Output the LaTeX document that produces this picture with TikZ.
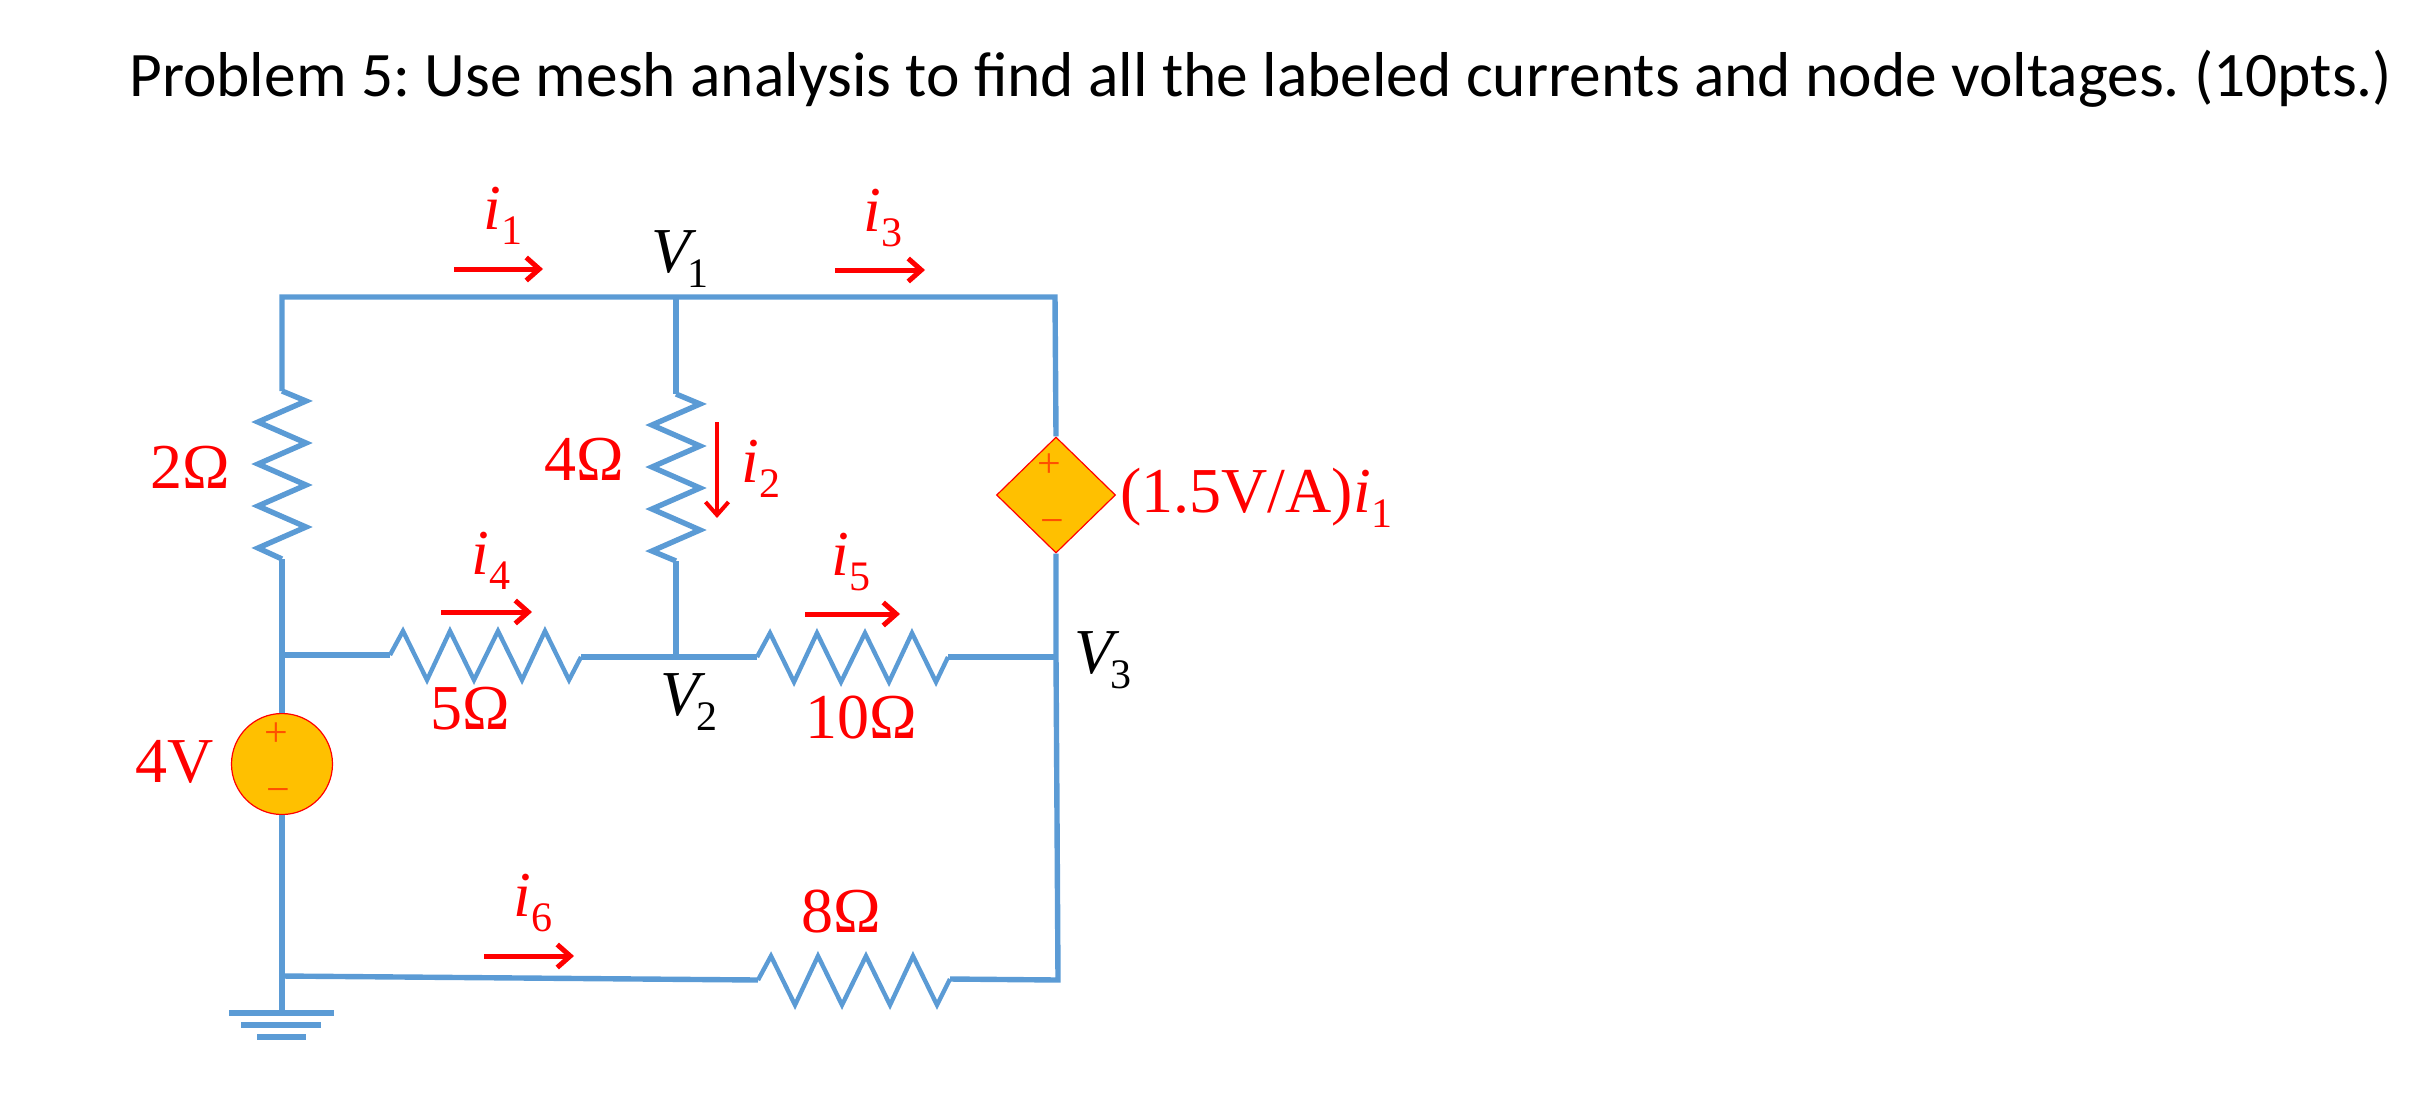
\documentclass[tikz,border=0pt]{standalone}
\usepackage{fontspec}
\setmainfont{Liberation Serif}
\newfontfamily\titlefont{Carlito}
\usetikzlibrary{shapes.geometric, arrows.meta, positioning}
\definecolor{wireblue}{RGB}{91, 155, 213}
\definecolor{srcfill}{RGB}{255, 192, 0}
\definecolor{signred}{RGB}{255, 80, 0}
\newcommand{\cur}[2]{\textit{#1}\raisebox{-7.5pt}{\fontsize{21}{21}\selectfont #2}}
\newcommand{\volt}[2]{\textit{#1}\kern-4.5pt\raisebox{-7.5pt}{\fontsize{21}{21}\selectfont #2}}
\newcommand{\resv}[3]{\draw[wire] (#1) -- ++(24,10) -- ++(-48,21) -- ++(48,21) -- ++(-48,21) -- ++(48,21) -- ++(-48,21) -- ++(48,21) -- ++(-48,21) -- (#2);}
\newcommand{\resh}[3]{\draw[wire, line width=2.2pt] (#1) -- ++(13,-24) -- ++(24,49) -- ++(23,-49) -- ++(24,49) -- ++(24,-49) -- ++(24,49) -- ++(23,-49) -- ++(24,49) -- (#2);}
\tikzset{
  wire/.style={draw=wireblue, line width=2.7pt, line join=miter},
  flow/.style={draw=red, line width=2.5pt, -{Straight Barb[length=6.5pt, width=11.5pt]}},
  lab/.style={anchor=base west, inner sep=0pt, text=red, font=\fontsize{32}{36}\selectfont},
  vlab/.style={lab, text=black},
  sign/.style={inner sep=0pt, text=signred, font=\fontsize{21}{21}\selectfont},
}
\begin{document}
\begin{tikzpicture}[x=0.5pt, y=-0.5pt]
  \useasboundingbox (0,0) rectangle (2412,1114);

  % Title
  \node[anchor=base west, inner sep=0pt, font=\titlefont\fontsize{31.7}{36}\selectfont] (title) at (129,96) {\frenchspacing Problem 5: Use mesh analysis to find all the labeled currents and node voltages. (10pts.)};

  % Sources
  \node[circle, draw=red, fill=srcfill, line width=0.6pt, minimum size=50.5pt, inner sep=0pt] (vs) at (282,764) {};
  \node[sign] (vsplus) at (276,735) {+};
  \node[sign] (vsminus) at (278,796) {−};
  \node[diamond, draw=red, fill=srcfill, line width=0.6pt, minimum width=59.5pt, minimum height=58pt, inner sep=0pt] (dep) at (1056,495) {};
  \node[sign] (depplus) at (1049,466) {+};
  \node[sign] (depminus) at (1052,527) {−};

  % Corners and junctions
  \coordinate (tl) at (282,297);
  \coordinate (tm) at (676,297);
  \coordinate (tr) at (1055,297);
  \coordinate (ml) at (282,655);
  \coordinate (mm) at (676,657);
  \coordinate (mr) at (1056,657);
  \coordinate (bl) at (282,976);
  \coordinate (br) at (1058,980);
  \coordinate (gnd) at (282,1013);

  % Resistor ends
  \coordinate (r2a) at (282,391);
  \coordinate (r2b) at (282,559);
  \coordinate (r4a) at (676,394);
  \coordinate (r4b) at (676,561);
  \coordinate (r5a) at (390,655);
  \coordinate (r5b) at (581,657);
  \coordinate (r10a) at (757,657);
  \coordinate (r10b) at (948,657);
  \coordinate (r8a) at (758,980);
  \coordinate (r8b) at (950,979);

  % Wires
  \draw[wire] (r2a) -- (tl) -- (tr) -- (dep.north);
  \draw[wire] (tm) -- (r4a);
  \draw[wire] (r2b) -- (ml) -- (vs.north);
  \draw[wire] (r4b) -- (mm);
  \draw[wire] (ml) -- (r5a);
  \draw[wire] (r5b) -- (mm) -- (r10a);
  \draw[wire] (r10b) -- (mr);
  \draw[wire] (dep.south) -- (mr) -- (br) -- (r8b);
  \draw[wire] (vs.south) -- (bl) -- (gnd);
  \draw[wire] (bl) -- (r8a);

  % Resistors
  \resv{r2a}{r2b}{}
  \resv{r4a}{r4b}{}
  \resh{r5a}{r5b}{}
  \resh{r10a}{r10b}{}
  \resh{r8a}{r8b}{}

  % Ground
  \draw[wire] (gnd) ++(-53,0) -- ++(105,0);
  \draw[wire] (gnd) ++(-41,12) -- ++(80,0);
  \draw[wire] (gnd) ++(-25,24) -- ++(49,0);

  % Current arrows
  \draw[flow] (454,269) -- (543,269);
  \draw[flow] (835,270) -- (925,270);
  \draw[flow, line width=2pt] (717,422) -- (717,518);
  \draw[flow] (441,612) -- (532,612);
  \draw[flow] (805,614) -- (900,614);
  \draw[flow] (484,956) -- (574,956);

  % Labels
  \node[lab] (li1) at (483,229) {\cur{i}{1}};
  \node[lab] (li2) at (741,482) {\cur{i}{2}};
  \node[lab] (li3) at (863,231) {\cur{i}{3}};
  \node[lab] (li4) at (471,574) {\cur{i}{4}};
  \node[lab] (li5) at (831,575) {\cur{i}{5}};
  \node[lab] (li6) at (513,916) {\cur{i}{6}};
  \node[vlab] (lv1) at (651,272) {\volt{V}{1}};
  \node[vlab] (lv2) at (660,715) {\volt{V}{2}};
  \node[vlab] (lv3) at (1074,673) {\volt{V}{3}};
  \node[lab] (l2) at (150,488) {2Ω};
  \node[lab] (l4) at (544,480) {4Ω};
  \node[lab] (l5) at (430,729) {5Ω};
  \node[lab] (l10) at (805,738) {10Ω};
  \node[lab] (l8) at (801,932) {8Ω};
  \node[lab] (lvs) at (135,782) {4V};
  \node[lab] (ldep) at (1120,512) {(1.5V/A)\cur{i}{1}};
\end{tikzpicture}
\end{document}
